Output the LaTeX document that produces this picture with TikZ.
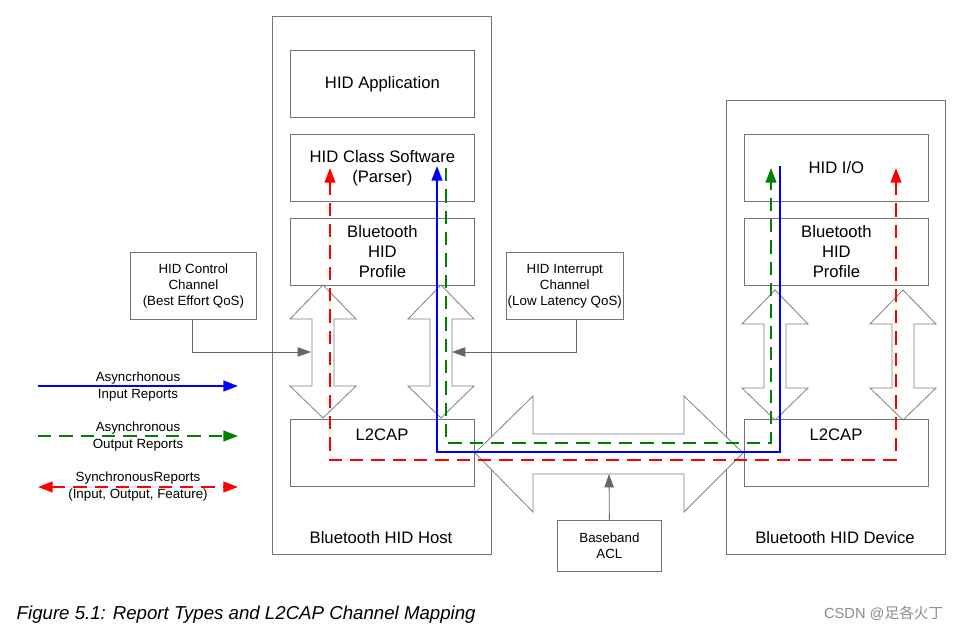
\documentclass[tikz,border=0pt]{standalone}
\usepackage{fontspec}
\setmainfont{Liberation Sans}
\newfontfamily\cjk{Noto Sans CJK SC}
\usetikzlibrary{arrows.meta}
\begin{document}
\begin{tikzpicture}[x=0.75pt,y=-0.75pt,
  box/.style={draw=black!55,line width=0.6pt,fill=white,inner sep=1pt,align=center,font=\fontsize{12.5}{15}\selectfont},
  sbox/.style={box,font=\fontsize{10}{12}\selectfont},
  dbl/.style={draw=black!50,line width=0.6pt,fill=white},
  tip/.style={-{Triangle[length=11pt,width=8pt]}},
  ctl/.style={draw=black!60,line width=0.6pt,-{Triangle[length=10pt,width=7pt]}},
  path/.style={line width=1.6pt},
  dsh/.style={path,dash pattern=on 10pt off 6pt},
  lbl/.style={font=\fontsize{10}{12}\selectfont,align=center}]
\useasboundingbox (0,0) rectangle (960,631);
% containers
\node[box,anchor=north west,minimum width=164.25pt,minimum height=403.5pt] (host) at (272,16) {};
\node[box,anchor=north west,minimum width=164.25pt,minimum height=340.5pt] (dev) at (726,100) {};
\node[box,draw=none,fill=none] (hostl) at (381,538) {Bluetooth HID Host};
\node[box,draw=none,fill=none] (devl) at (835,538) {Bluetooth HID Device};
% inner boxes
\foreach \n/\x/\y/\t in {app/290/50/HID Application, cls/290/134/{HID Class Software\\(Parser)}, prof/290/218/{Bluetooth\\HID\\Profile}, l2h/290/419/{}, io/744/134/{HID I/O}, dprof/744/218/{Bluetooth\\HID\\Profile}, l2d/744/419/{}}
  \node[box,anchor=north west,minimum width=138pt,minimum height=50.25pt] (\n) at (\x,\y) {\t};
\node[box,draw=none,fill=none] (l2ht) at (382,435) {L2CAP};
\node[box,draw=none,fill=none] (l2dt) at (836,435) {L2CAP};
\node[sbox,anchor=north west,minimum width=94.5pt,minimum height=50.25pt] (ctrl) at (130,252) {HID Control\\Channel\\(Best Effort QoS)};
\node[sbox,anchor=north west,minimum width=84pt,minimum height=50.25pt] (intr) at (506,252) {HID Interrupt\\Channel\\(Low Latency QoS)};
\node[sbox,anchor=north west,minimum width=78pt,minimum height=38.25pt] (bb) at (557,520) {Baseband\\ACL};
% vertical double arrows
\foreach \c/\t/\b in {323/285/418, 441/285/418, 775/290/420, 903/290/420}
  \draw[dbl] (\c,\t) -- (\c+33,\t+34) -- (\c+11,\t+34) -- (\c+11,\b-32) -- (\c+33,\b-32) -- (\c,\b)
    -- (\c-33,\b-32) -- (\c-11,\b-32) -- (\c-11,\t+34) -- (\c-33,\t+34) -- cycle;
% horizontal double arrow
\draw[dbl] (475,453) -- (533,396) -- (533,434) -- (684,434) -- (684,396) -- (743,453)
  -- (684,512) -- (684,474) -- (533,474) -- (533,512) -- cycle;
\coordinate (hm) at (609,474);
% control connectors
\coordinate (cin) at (311,352);
\coordinate (iin) at (452,352);
\draw[ctl] (ctrl.south -| 192,0) |- (cin);
\draw[ctl] (intr.south -| 576,0) |- (iin);
\draw[ctl] (bb.north) -- (hm);
% report paths
\draw[dsh,red,{Triangle[length=11pt,width=8pt]}-{Triangle[length=11pt,width=8pt]}] (896,168) -- (896,460) -- (330,460) -- (330,168);
\draw[path,blue,tip] (780,166) -- (780,452) -- (437,452) -- (437,166);
\draw[dsh,green!50!black,tip] (446,168) -- (446,443) -- (771,443) -- (771,168);
% legend
\node[lbl] (la) at (138,378) {Asyncrhonous};
\node[lbl] (lb) at (138,395) {Input Reports};
\coordinate (a1) at (38,386); \coordinate (a2) at (238,386);
\draw[path,blue,tip] (a1) -- (a2);
\node[lbl] (lc) at (138,428) {Asynchronous};
\node[lbl] (ld) at (138,445) {Output Reports};
\coordinate (b1) at (38,436); \coordinate (b2) at (238,436);
\draw[dsh,green!50!black,tip] (b1) -- (b2);
\node[lbl] (le) at (138,478) {SynchronousReports};
\node[lbl] (lf) at (138,495) {(Input, Output, Feature)};
\coordinate (c1) at (38,487); \coordinate (c2) at (238,487);
\draw[dsh,red,{Triangle[length=11pt,width=8pt]}-{Triangle[length=11pt,width=8pt]}] (c1) -- (c2);
% caption
\node[anchor=west,font=\itshape\fontsize{14}{16}\selectfont] (cap) at (12,615) {Figure 5.1: Report Types and L2CAP Channel Mapping};
\node[anchor=east,text=black!45,font=\fontsize{11}{13}\selectfont] (wm) at (948,613) {CSDN @{\cjk 足各火丁}};
\end{tikzpicture}
\end{document}
